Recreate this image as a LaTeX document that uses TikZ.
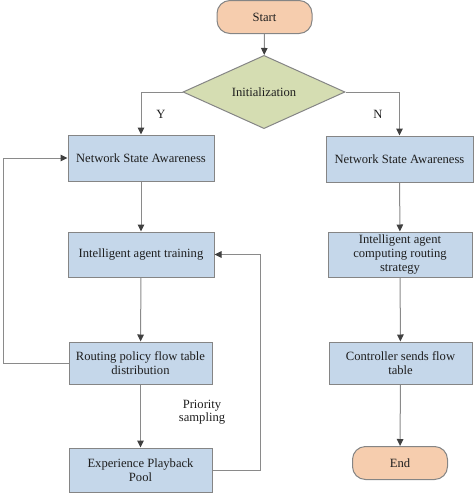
\documentclass[tikz,border=0pt]{standalone}
\usepackage{fontspec}
\setmainfont{Liberation Serif}
\usetikzlibrary{shapes.geometric,arrows.meta}
\definecolor{boxfill}{HTML}{C5D7EA}
\definecolor{boxline}{HTML}{858585}
\definecolor{peach}{HTML}{F6CDAE}
\definecolor{olive}{HTML}{D5DDB2}
\definecolor{linegray}{HTML}{8A8A8A}
\definecolor{tipgray}{HTML}{404040}
\definecolor{txt}{HTML}{1E1E1E}
\begin{document}
\begin{tikzpicture}[x=1pt,y=-1pt,
  font=\fontsize{12.6}{13.6}\selectfont, text=txt,
  procbox/.style={draw=boxline, fill=boxfill, line width=1pt, align=center, inner sep=1pt},
  termbox/.style={draw=boxline, fill=peach, line width=1pt, rounded corners=13pt, minimum width=95pt, minimum height=33pt},
  decbox/.style={draw=boxline, fill=olive, line width=1pt, diamond, minimum width=162pt, minimum height=42pt, inner sep=0pt},
  conn/.style={draw=linegray, line width=1pt, -{Triangle[length=7pt,width=6.5pt,color=tipgray]}},
  plain/.style={draw=linegray, line width=1pt}]
\useasboundingbox (0,0) rectangle (474,493);
\node[termbox] (start) at (264.5,17) {Start};
\node[decbox] (init) at (264,92) {Initialization};
\node[procbox, minimum width=146pt, minimum height=46pt] (nsa1) at (141,158) {Network State Awareness};
\node[procbox, minimum width=146pt, minimum height=45pt] (train) at (141,254.5) {Intelligent agent training};
\node[procbox, minimum width=143pt, minimum height=42pt] (route) at (140.5,363) {Routing policy flow table\\distribution};
\node[procbox, minimum width=143pt, minimum height=44pt] (exp) at (140.5,470) {Experience Playback\\Pool};
\node[procbox, minimum width=147pt, minimum height=46pt] (nsa2) at (399.5,159) {Network State Awareness};
\node[procbox, minimum width=144pt, minimum height=45pt] (comp) at (400,254.5) {Intelligent agent\\computing routing\\strategy};
\node[procbox, minimum width=143pt, minimum height=42pt] (ctrl) at (400.5,363) {Controller sends flow\\table};
\node[termbox] (end) at (400,463) {End};
\node (ylab) at (161,114) {Y};
\node (nlab) at (378,114) {N};
\node[align=center] (prio) at (202,412) {Priority\\sampling};
\coordinate (lc) at (3,363);
\coordinate (lt) at (3,158);
\coordinate (rc) at (260,470);
\coordinate (rt) at (260,254.5);
\draw[conn] (start) -- (init);
\draw[conn] (init.west) -| (nsa1.north);
\draw[conn] (init.east) -| (nsa2.north);
\draw[conn] (nsa1) -- (train);
\draw[conn] (train) -- (route);
\draw[conn] (route) -- (exp);
\draw[conn] (nsa2) -- (comp);
\draw[conn] (comp) -- (ctrl);
\draw[conn] (ctrl) -- (end);
\draw[conn] (route.west) -- (lc) -- (lt) -- (nsa1.west);
\draw[conn] (exp.east) -- (rc) -- (rt) -- (train.east);
\end{tikzpicture}
\end{document}
